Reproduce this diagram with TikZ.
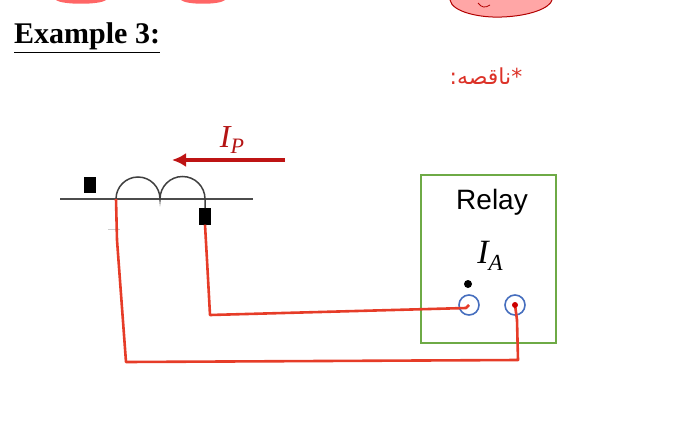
\documentclass[tikz,border=0pt]{standalone}
\usetikzlibrary{arrows.meta}
\usepackage{fontspec}
\setmainfont{Liberation Serif}
\newfontfamily\arabicfont[Script=Arabic]{DejaVu Sans}
\newfontfamily\sansf{Liberation Sans}
\TeXXeTstate=1
\begin{document}
\begin{tikzpicture}[x=1pt,y=-1pt,
  wire/.style={draw={rgb,255:red,230;green,60;blue,40},line width=2.6pt,line join=round},
  blk/.style={fill=black},
  term/.style={circle,draw={rgb,255:red,70;green,110;blue,190},line width=1.6pt,minimum size=20pt,inner sep=0pt}]
\useasboundingbox (0,0) rectangle (700,428);
% top partial blobs
\fill[red!60] (56,0) .. controls (62,5) and (100,5) .. (106,0) -- cycle;
\fill[red!60] (181,0) .. controls (186,5) and (220,5) .. (225,0) -- cycle;
\draw[red!70!black,fill=red!35,line width=1pt] (450,0) .. controls (452,12) and (480,18) .. (502,17) .. controls (530,16) and (550,8) .. (552,0);
\draw[red!70!black,line width=0.8pt] (478,3) .. controls (482,8) and (485,8) .. (490,5);
\node[anchor=base west,font=\bfseries\fontsize{30}{32}\selectfont,inner sep=0] (title) at (14,44) {\underline{Example 3:}};
\node[text={rgb,255:red,220;green,50;blue,40},font=\arabicfont\fontsize{22}{24}\selectfont] (note) at (486,76) {\beginR *ناقصه:\endR};
% busbar and CT
\draw[gray!60!black,line width=1.2pt] (60,199) coordinate (bl) -- (253,199) coordinate (br);
\draw[gray!40] (108,229) -- (120,229);
\node[blk,minimum width=12pt,minimum height=16pt,inner sep=0] (s1) at (90,185) {};
\node[blk,minimum width=12pt,minimum height=17pt,inner sep=0] (s2) at (205,216) {};
\coordinate (c0) at (116,199);
\draw[gray!50!black,line width=1.5pt] (c0) arc[start angle=180,end angle=360,radius=22] arc[start angle=180,end angle=360,radius=22.5] -- (205,208);
% Ip
\draw[-{Latex[length=14pt,width=14pt]},draw={rgb,255:red,190;green,20;blue,20},fill={rgb,255:red,190;green,20;blue,20},line width=4pt] (285,160) coordinate (ia) -- (172,160) coordinate (ib);
\node[text={rgb,255:red,180;green,20;blue,20},font=\itshape\fontsize{32}{34}\selectfont] (ip) at (232,140) {I\raisebox{-6pt}{\fontsize{22}{24}\selectfont P}};
% relay
\node[draw={rgb,255:red,110;green,170;blue,70},line width=1.8pt,minimum width=135pt,minimum height=168pt,inner sep=0] (relay) at (488.5,259) {};
\node[font=\sansf\fontsize{28}{30}\selectfont] (rl) at (492,202) {Relay};
\node[font=\itshape\fontsize{34}{36}\selectfont] (ia2) at (490,256) {I\raisebox{-7pt}{\fontsize{23}{25}\selectfont A}};
\fill (468,284) circle (4pt);
\node[term] (t1) at (469,305) {};
\node[term] (t2) at (515,305) {};
% wires
\draw[wire] (s2.south) -- (207,260) -- (210,315) -- (466,308) -- (t1.center);
\draw[wire] (c0) -- (117,240) -- (126,362) -- (518,360) -- (517,320) -- (t2.center);
\fill[red!80!black] (t2.center) circle (3pt);
\end{tikzpicture}
\end{document}
